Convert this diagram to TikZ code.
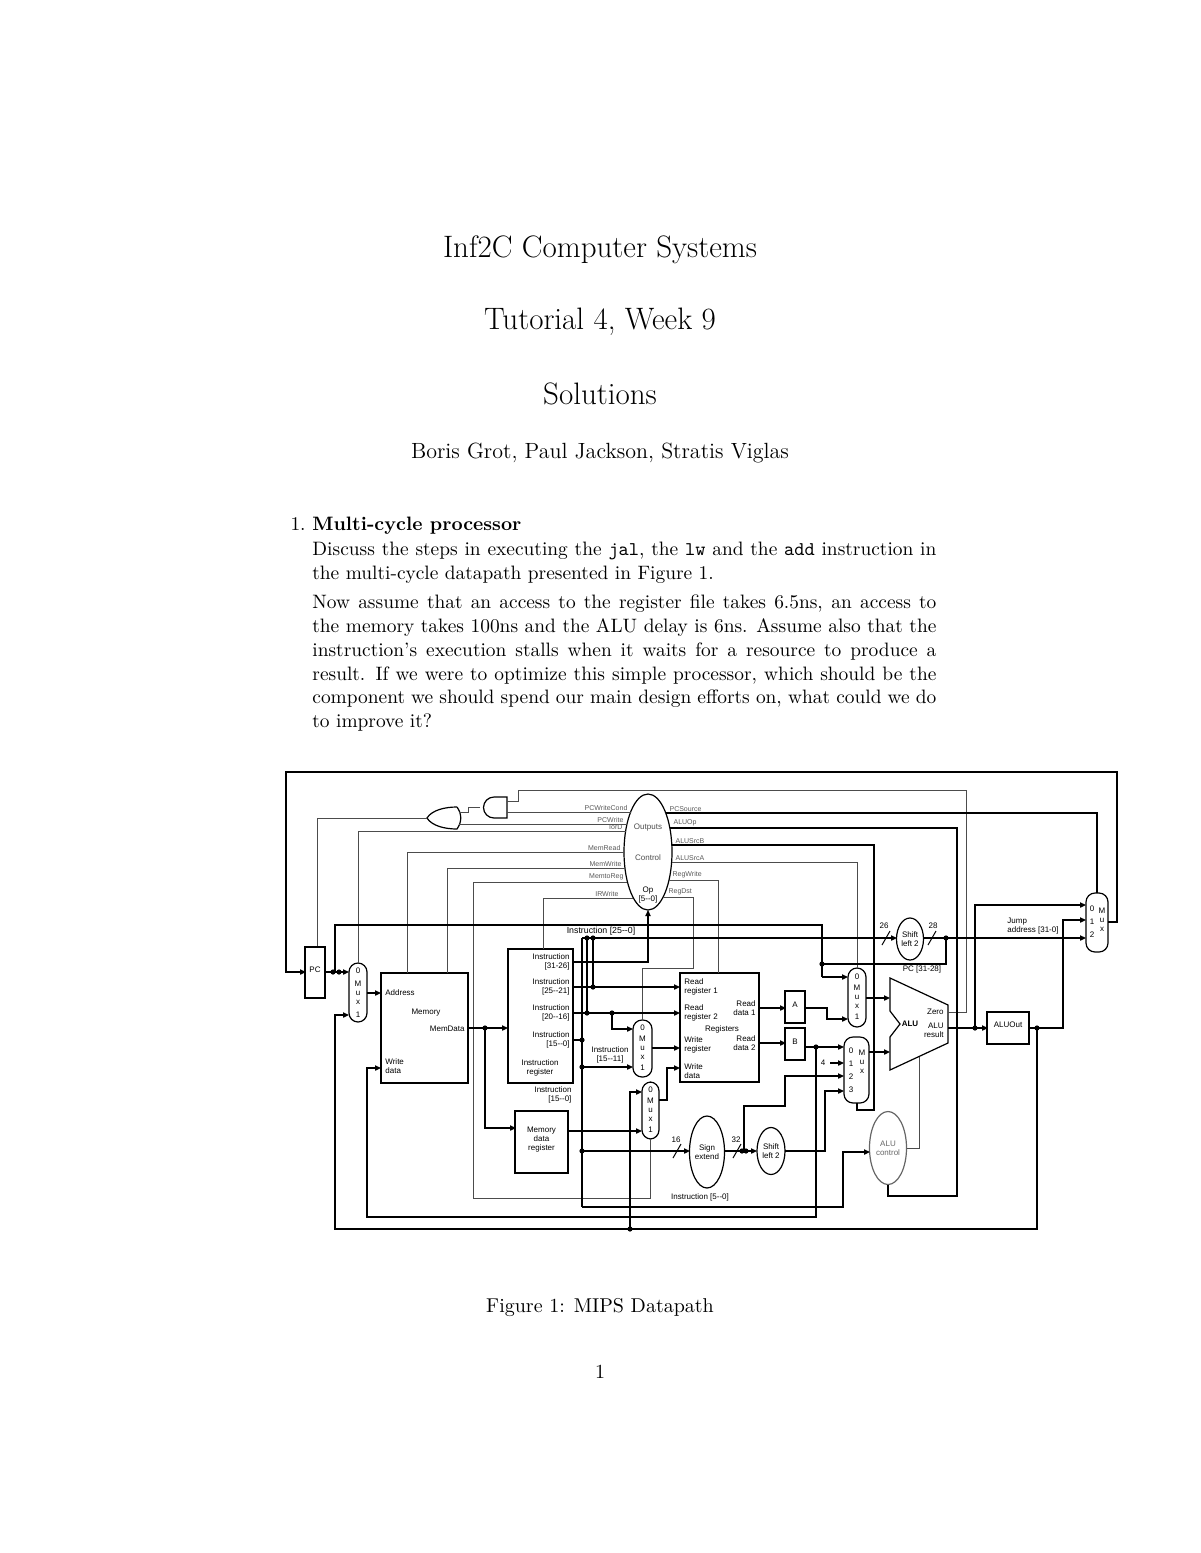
\documentclass[tikz,border=0pt]{standalone}
\usepackage{fontspec}
\newfontfamily\dsf{Liberation Sans}
\usetikzlibrary{shapes.geometric,arrows.meta,fit}
\begin{document}
\begin{tikzpicture}[x=0.5pt,y=-0.5pt,
 thk/.style={line width=1.1pt},
 mid/.style={line width=0.8pt},
 thn/.style={line width=0.45pt,draw=black!70},
 arr/.style={-{Triangle[length=3pt,width=2.6pt]}},
 box/.style={draw,line width=0.6pt,inner sep=0pt},
 mux/.style={draw,line width=0.6pt,inner sep=0pt,rounded corners=4.5pt},
 lb/.style={font=\dsf\fontsize{4}{4.5}\selectfont,inner sep=0.5pt},
 cl/.style={font=\dsf\fontsize{3.5}{4}\selectfont,text=black!65,inner sep=0.6pt},
 dot/.style={circle,fill,inner sep=0pt,minimum size=2.6pt},
 elp/.style={ellipse,draw,line width=0.6pt,inner sep=0pt,font=\dsf\fontsize{4}{4.5}\selectfont,align=center},
 body/.style={font=\fontsize{9.7}{12}\selectfont,anchor=base west,inner sep=0pt}]
\useasboundingbox (0,0) rectangle (1200,1553);
% ---------- text ----------
\node[font=\fontsize{15.5}{18}\selectfont] (t1) at (600,250) {Inf2C Computer Systems};
\node[font=\fontsize{15.5}{18}\selectfont] (t2) at (600,322) {Tutorial 4, Week 9};
\node[font=\fontsize{15.5}{18}\selectfont] (t3) at (600,394) {Solutions};
\node[font=\fontsize{11}{13}\selectfont] (t4) at (600,453) {Boris Grot, Paul Jackson, Stratis Viglas};
\node[body,anchor=base east] (n1) at (306,530) {1.};
\node[body] (q0) at (312,530) {\textbf{Multi-cycle processor}};
\node[body] (q1) at (312,555) {\makebox[312pt][s]{Discuss the steps in executing the \texttt{jal}, the \texttt{lw} and the \texttt{add} instruction in}};
\node[body] (q2) at (312,579) {the multi-cycle datapath presented in Figure 1.};
\node[body] (q3) at (312,608) {\makebox[312pt][s]{Now assume that an access to the register file takes 6.5ns, an access to}};
\node[body] (q4) at (312,632) {\makebox[312pt][s]{the memory takes 100ns and the ALU delay is 6ns. Assume also that the}};
\node[body] (q5) at (312,656) {\makebox[312pt][s]{instruction's execution stalls when it waits for a resource to produce a}};
\node[body] (q6) at (312,680) {\makebox[312pt][s]{result. If we were to optimize this simple processor, which should be the}};
\node[body] (q7) at (312,703) {\makebox[312pt][s]{component we should spend our main design efforts on, what could we do}};
\node[body] (q8) at (312,727) {to improve it?};
\node[font=\fontsize{10}{12}\selectfont] (cap) at (600,1307) {Figure 1: MIPS Datapath};
\node[font=\fontsize{10}{12}\selectfont] (pg) at (600,1372) {1};
% ---------- components ----------
\node[box,lb,fit={(306,948)(324,997)}] (pc) {PC};
\node[mux,fit={(349,963)(367,1022)}] (m1) {};
\node[lb,align=center] at (358,993) {0\\[2pt]M\\u\\x\\[2pt]1};
\node[box,fit={(381,973)(468,1083)}] (mem) {};
\node[lb,anchor=west] at (384,993) {Address};
\node[lb] at (426,1013) {Memory};
\node[lb,anchor=east] at (466,1029) {MemData};
\node[lb,anchor=west,align=left] at (384,1066) {Write\\data};
\node[box,fit={(508,949)(573,1083)}] (ir) {};
\node[lb,anchor=east,align=right] at (571,962) {Instruction\\{[31-26]}};
\node[lb,anchor=east,align=right] at (571,987) {Instruction\\{[25--21]}};
\node[lb,anchor=east,align=right] at (571,1013) {Instruction\\{[20--16]}};
\node[lb,anchor=east,align=right] at (571,1040) {Instruction\\{[15--0]}};
\node[lb,align=center] at (540,1068) {Instruction\\register};
\node[lb,align=right] at (553,1095) {Instruction\\{[15--0]}};
\node[box,lb,align=center,fit={(516,1112)(567,1172)}] (mdr) {Memory\\data\\register};
\node[box,fit={(680,973)(759,1082)}] (reg) {};
\node[lb,anchor=west,align=left] at (683,987) {Read\\register 1};
\node[lb,anchor=west,align=left] at (683,1013) {Read\\register 2};
\node[lb,anchor=west,align=left] at (683,1045) {Write\\register};
\node[lb,anchor=west,align=left] at (683,1071) {Write\\data};
\node[lb] at (722,1029) {Registers};
\node[lb,anchor=east,align=right] at (757,1008) {Read\\data 1};
\node[lb,anchor=east,align=right] at (757,1043) {Read\\data 2};
\node[mux,fit={(633,1020)(652,1077)}] (mrd) {};
\node[lb,align=center] at (642.5,1048) {0\\[1pt]M\\u\\x\\[1pt]1};
\node[mux,fit={(642,1082)(659,1139)}] (mtr) {};
\node[lb,align=center] at (650.5,1110) {0\\[1pt]M\\u\\x\\[1pt]1};
\node[box,lb,fit={(786,992)(804,1022)}] (ra) {A};
\node[box,lb,fit={(786,1029)(804,1059)}] (rb) {B};
\node[mux,fit={(848,968)(866,1027)}] (ma) {};
\node[lb,align=center] at (857,997) {0\\[1pt]M\\u\\x\\[1pt]1};
\node[mux,fit={(844,1037)(869,1103)}] (mb) {};
\node[lb,align=center] at (851,1070) {0\\[2pt]1\\[2pt]2\\[2pt]3};
\node[lb,align=center] at (862,1062) {M\\u\\x};
\draw[line width=0.6pt] (890,978) -- (948,1005) -- (948,1043) -- (890,1070) -- (890,1037) -- (900,1024) -- (890,1011) -- cycle;
\coordinate (alu) at (915,1024);
\node[lb,font=\dsf\bfseries\fontsize{4}{4.5}\selectfont] at (910,1024) {ALU};
\node[lb,anchor=east] at (945,1012) {Zero};
\node[lb,anchor=east,align=right] at (945,1030) {ALU\\result};
\node[box,lb,fit={(988,1013)(1028,1043)}] (aluout) {ALUOut};
\node[mux,fit={(1086,893)(1108,952)}] (mpc) {};
\node[lb,align=center] at (1092,922) {0\\[2pt]1\\[2pt]2};
\node[lb,align=center] at (1102,920) {M\\u\\x};
\node[elp,minimum width=13.5pt,minimum height=21pt] (sl1) at (910,939) {Shift\\left 2};
\node[elp,minimum width=17.5pt,minimum height=36pt] (se) at (707,1152) {Sign\\extend};
\node[elp,minimum width=14pt,minimum height=23.5pt] (sl2) at (771,1151) {Shift\\left 2};
\node[elp,draw=black!60,text=black!60,minimum width=18.5pt,minimum height=36.5pt] (aluc) at (888,1148) {ALU\\control};
\node[elp,minimum width=24pt,minimum height=58pt] (ctrl) at (648,852) {};
\node[lb,text=black!70] at (648,828) {Outputs};
\node[lb,text=black!70] at (648,858) {Control};
\node[lb,align=center] at (648,895) {Op\\{[5--0]}};
% gates (pointing left)
\draw[line width=0.6pt] (507,797) -- (494,797) arc[start angle=90,end angle=270,radius=5.25pt] -- (507,818) -- cycle;
\draw[line width=0.6pt] (457,807) .. controls (445,807) and (432,810) .. (427,818) .. controls (432,826) and (445,829) .. (457,829) .. controls (462,822) and (462,814) .. (457,807);
% ---------- control lines ----------
\draw[thn] (631,812) -- (507,812);
\draw[thn] (627,824) -- (459,824);
\draw[thn] (480,807) -- (468,807) -- (468,812) -- (459,812);
\draw[thn] (427,818) -- (317,818) -- (pc.north-|317,0);
\draw[thn] (626,831) -- (358,831) -- (358,963);
\draw[thn] (624,852) -- (407,852) -- (407,973);
\draw[thn] (625,868) -- (447,868) -- (447,973);
\draw[thn] (627,882) -- (473,882) -- (473,1198) -- (650,1198) -- (650,1139);
\draw[thn] (633,898) -- (543,898) -- (543,949);
\draw[thn] (948,1012) -- (966,1012) -- (966,790) -- (518,790) -- (518,801) -- (507,801);
\draw[mid] (666,813) -- (1097,813) -- (1097,893);
\draw[mid] (670,828) -- (957,828) -- (957,1196) -- (888,1196) -- (888,1185);
\draw[mid] (672,845) -- (874,845) -- (874,1110) -- (857,1110) -- (857,1103);
\draw[thn] (672,862) -- (857,862) -- (857,968);
\draw[thn] (669,880) -- (718,880) -- (718,973);
\draw[thn] (663,897) -- (693,897) -- (693,968) -- (642,968) -- (642,1020);
\draw[thn] (907,1148) -- (919,1148) -- (919,1057);
\node[cl,anchor=south east] at (629,812) {PCWriteCond};
\node[cl,anchor=south east] at (625,824) {PCWrite};
\node[cl,anchor=south east] at (624,831) {IorD};
\node[cl,anchor=south east] at (622,852) {MemRead};
\node[cl,anchor=south east] at (623,868) {MemWrite};
\node[cl,anchor=south east] at (625,882) {MemtoReg};
\node[cl,anchor=south east] at (620,898) {IRWrite};
\node[cl,anchor=south west] at (668,813) {PCSource};
\node[cl,anchor=south west] at (672,828) {ALUOp};
\node[cl,anchor=south west] at (674,845) {ALUSrcB};
\node[cl,anchor=south west] at (674,862) {ALUSrcA};
\node[cl,anchor=south west] at (671,880) {RegWrite};
\node[cl,anchor=south west] at (667,897) {RegDst};
% ---------- data wires ----------
\draw[thk,arr] (1108,922) -- (1117,922) -- (1117,772) -- (286,772) -- (286,972) -- (306,972);
\draw[thk,arr] (324,972) -- (349,972);
\draw[thk] (335,972) -- (335,925) -- (822,925) -- (822,977);
\draw[thk,arr] (822,977) -- (848,977);
\draw[thk] (822,964) -- (946,964) -- (946,938);
\draw[thk,arr] (367,993) -- (381,993);
\draw[thk,arr] (468,1028) -- (508,1028);
\draw[thk,arr] (485,1028) -- (485,1128) -- (516,1128);
\draw[thk,arr] (573,962) -- (648,962) -- (648,910);
\draw[thk,arr] (582,938) -- (897,938);
\draw[thk,arr] (924,938) -- (1086,938);
\draw[thk] (582,938) -- (582,1207);
\draw[thk] (587,938) -- (587,1013);
\draw[thk] (593,938) -- (593,987);
\draw[thk,arr] (573,987) -- (680,987);
\draw[thk,arr] (573,1013) -- (680,1013);
\draw[thk,arr] (612,1013) -- (612,1029) -- (633,1029);
\draw[thk] (573,1040) -- (582,1040);
\draw[thk,arr] (582,1067) -- (633,1067);
\draw[thk,arr] (652,1048) -- (680,1048);
\draw[thk,arr] (582,1151) -- (690,1151);
\draw[thk,arr] (582,1207) -- (843,1207) -- (843,1152) -- (870,1152);
\draw[thk,arr] (567,1131) -- (642,1131);
\draw[thk,arr] (630,1229) -- (630,1092) -- (642,1092);
\draw[thk,arr] (659,1100) -- (667,1100) -- (667,1068) -- (680,1068);
\draw[thk,arr] (759,1008) -- (786,1008);
\draw[thk,arr] (759,1043) -- (786,1043);
\draw[thk,arr] (804,1008) -- (827,1008) -- (827,1019) -- (848,1019);
\draw[thk,arr] (804,1047) -- (844,1047);
\draw[thk,arr] (816,1047) -- (816,1217) -- (367,1217) -- (367,1068) -- (381,1068);
\draw[thk,arr] (830,1063) -- (844,1063);
\node[lb] at (823,1063) {4};
\draw[thk,arr] (725,1151) -- (757,1151);
\draw[thk,arr] (744,1151) -- (744,1106) -- (785,1106) -- (785,1076) -- (844,1076);
\draw[thk,arr] (785,1151) -- (825,1151) -- (825,1091) -- (844,1091);
\draw[thk,arr] (866,998) -- (890,998);
\draw[thk,arr] (869,1052) -- (890,1052);
\draw[thk,arr] (948,1028) -- (988,1028);
\draw[thk,arr] (975,1028) -- (975,905) -- (1086,905);
\draw[thk,arr] (1028,1028) -- (1063,1028) -- (1063,920) -- (1086,920);
\draw[thk,arr] (1037,1028) -- (1037,1229) -- (335,1229) -- (335,1015) -- (349,1015);
% bit-width slashes and labels
\draw[line width=0.5pt] (882,945) -- (890,931);
\draw[line width=0.5pt] (928,945) -- (936,931);
\draw[line width=0.5pt] (673,1158) -- (681,1144);
\draw[line width=0.5pt] (733,1158) -- (741,1144);
\node[lb] at (884,926) {26};
\node[lb] at (933,926) {28};
\node[lb] at (676,1140) {16};
\node[lb] at (736,1140) {32};
\node[lb] at (922,969) {PC [31-28]};
\node[lb,align=left] at (1033,926) {Jump\\address [31-0]};
\node[lb,font=\dsf\fontsize{4.4}{5}\selectfont] at (601,931) {Instruction [25--0]};
\node[lb,align=center] at (610,1055) {Instruction\\{[15--11]}};
\node[lb] at (700,1197) {Instruction [5--0]};
% dots
\foreach \p in {(333,972),(339,972),(485,1028),(587,938),(593,938),(593,987),(587,1013),(612,1013),(582,1040),(582,1067),(582,1151),(742,1151),(746,1151),(816,1047),(822,964),(946,938),(975,1028),(1037,1028),(630,1229)}
  \node[dot] at \p {};
\end{tikzpicture}
\end{document}
